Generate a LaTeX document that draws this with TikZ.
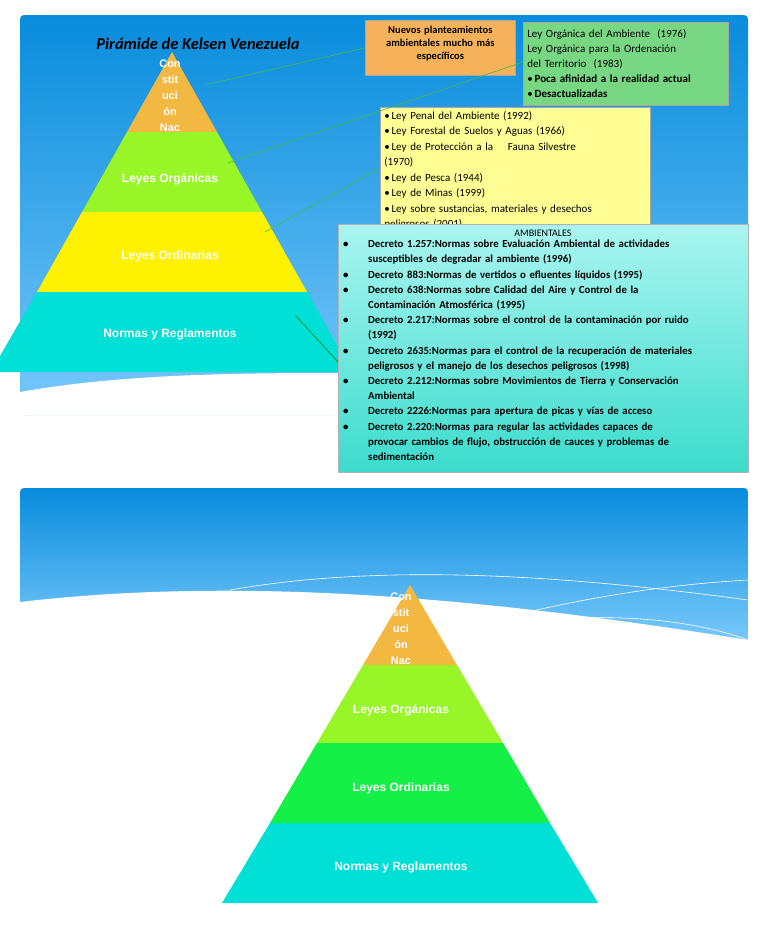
\documentclass[tikz,border=0pt]{standalone}
\usepackage{fontspec}
\setmainfont{Carlito}
\newfontfamily\arialf{Liberation Sans}
\definecolor{skyD}{RGB}{8,140,220}
\definecolor{skyL}{RGB}{120,200,250}
\definecolor{tOrange}{RGB}{242,184,66}
\definecolor{tGreen}{RGB}{152,245,40}
\definecolor{tGreenB}{RGB}{20,240,70}
\definecolor{tCyan}{RGB}{0,224,214}
\definecolor{bOrange}{RGB}{245,178,90}
\definecolor{bGreen}{RGB}{120,215,130}
\definecolor{bYellow}{RGB}{255,255,150}
\definecolor{cTop}{RGB}{170,245,240}
\definecolor{cBot}{RGB}{60,220,205}
\begin{document}
\begin{tikzpicture}[x=1pt,y=-1pt,
  tierlbl/.style={font=\arialf\bfseries\fontsize{12}{14}\selectfont,text=white},
  conlbl/.style={tierlbl,align=center,font=\arialf\bfseries\fontsize{11}{16}\selectfont},
  infobox/.style={draw=black!35,line width=0.6pt,anchor=north west,inner sep=4pt,align=left},
  link/.style={draw=green!50!gray,line width=0.6pt}]
\useasboundingbox (0,0) rectangle (768,946);
\fill[white] (0,0) rectangle (768,946);
% slide 1
\shade[top color=skyD,bottom color=skyL,rounded corners=4pt] (20,15) rectangle (748,415);
\fill[white] (20,415) -- (20,392) .. controls (200,360) and (420,380) .. (748,372) -- (748,415) -- cycle;
\draw[white,line width=0.6pt] (330,395) .. controls (480,360) and (620,365) .. (748,345);
% pyramid 1
\fill[tOrange] (172,52) -- (127,132) -- (217,132) -- cycle;
\fill[tGreen] (127,132) -- (217,132) -- (262,212) -- (82,212) -- cycle;
\fill[yellow] (82,212) -- (262,212) -- (307,292) -- (37,292) -- cycle;
\fill[tCyan] (37,292) -- (307,292) -- (352,372) -- (0,372) -- (0,356) -- cycle;
\begin{scope}
\clip (150,56) rectangle (200,132);
\node[conlbl,anchor=north] (c1) at (170,56) {Con\\stit\\uci\\ón\\Nac\\ion\\al};
\end{scope}
\node[tierlbl] (o1) at (170,179) {Leyes Orgánicas};
\node[tierlbl] (r1) at (170,256) {Leyes Ordinarias};
\node[tierlbl] (n1) at (170,334) {Normas y Reglamentos};
\node[font=\bfseries\itshape\fontsize{16.5}{19}\selectfont] (title) at (198,44) {Pirámide de Kelsen Venezuela};
% boxes
\node[infobox,align=center,fill=bOrange,text width=142pt,minimum height=55pt,font=\bfseries\fontsize{10.5}{13}\selectfont,anchor=north west] (b1) at (365,20) {Nuevos planteamientos\\ ambientales mucho más\\ específicos\vspace{8pt}};
\node[infobox,fill=bGreen,text width=197pt,minimum height=83pt,font=\fontsize{11}{15}\selectfont] (b2) at (523,22) {Ley Orgánica del Ambiente\ \ (1976)\\Ley Orgánica para la Ordenación\\del Territorio\ \ (1983)\\\textbullet\,\textbf{Poca afinidad a la realidad actual}\\\textbullet\,\textbf{Desactualizadas}};
\node[infobox,fill=bYellow,text width=262pt,minimum height=125pt,font=\fontsize{11}{15.5}\selectfont] (b3) at (380,107) {\textbullet\,Ley Penal del Ambiente (1992)\\\textbullet\,Ley Forestal de Suelos y Aguas (1966)\\\textbullet\,Ley de Protección a la\quad\ Fauna Silvestre\\(1970)\\\textbullet\,Ley de Pesca (1944)\\\textbullet\,Ley de Minas (1999)\\\textbullet\,Ley sobre sustancias, materiales y desechos\\peligrosos (2001)};
\node[draw=black!30,line width=0.6pt,anchor=north west,inner sep=0pt,minimum width=410pt,minimum height=248pt,top color=cTop,bottom color=cBot] (b4) at (338,224) {};
\node[anchor=north,font=\fontsize{10}{12}\selectfont] (amb) at (543,226) {AMBIENTALES};
\node[anchor=north west,inner sep=0pt,font=\bfseries\fontsize{10.8}{15.2}\selectfont,align=left,text width=404pt] (dec) at (343,240) {%
\makebox[25pt][l]{\textbullet}Decreto 1.257:Normas sobre Evaluación Ambiental de actividades\\\hspace*{25pt}susceptibles de degradar al ambiente (1996)\\
\makebox[25pt][l]{\textbullet}Decreto 883:Normas de vertidos o efluentes líquidos (1995)\\
\makebox[25pt][l]{\textbullet}Decreto 638:Normas sobre Calidad del Aire y Control de la\\\hspace*{25pt}Contaminación Atmosférica (1995)\\
\makebox[25pt][l]{\textbullet}Decreto 2.217:Normas sobre el control de la contaminación por ruido\\\hspace*{25pt}(1992)\\
\makebox[25pt][l]{\textbullet}Decreto 2635:Normas para el control de la recuperación de materiales\\\hspace*{25pt}peligrosos y el manejo de los desechos peligrosos (1998)\\
\makebox[25pt][l]{\textbullet}Decreto 2.212:Normas sobre Movimientos de Tierra y Conservación\\\hspace*{25pt}Ambiental\\
\makebox[25pt][l]{\textbullet}Decreto 2226:Normas para apertura de picas y vías de acceso\\
\makebox[25pt][l]{\textbullet}Decreto 2.220:Normas para regular las actividades capaces de\\\hspace*{25pt}provocar cambios de flujo, obstrucción de cauces y problemas de\\\hspace*{25pt}sedimentación};
\coordinate (p1) at (205,85); \coordinate (p2) at (228,163);
\coordinate (p3) at (265,232); \coordinate (p4) at (295,315);
\draw[link] (p1) -- (b1.west);
\draw[link] (p2) -- (523,62);
\draw[link] (p3) -- (380,168);
\draw[link,draw=black!50!green] (p4) -- (338,362);
% slide 2
\begin{scope}
\clip[rounded corners=4pt] (20,488) rectangle (748,946);
\shade[top color=skyD,bottom color=skyL] (20,488) rectangle (748,640);
\fill[white] (20,640) -- (20,602) .. controls (250,575) and (500,600) .. (748,640) -- cycle;
\fill[white] (20,640) rectangle (748,946);
\draw[white,line width=0.6pt] (230,590) .. controls (400,560) and (600,580) .. (748,600);
\draw[white,line width=0.6pt] (440,635) .. controls (560,600) and (660,585) .. (748,580);
\draw[white,line width=0.6pt] (470,630) .. controls (580,610) and (680,615) .. (748,640);
\end{scope}
\fill[tOrange] (410,585) -- (363,665) -- (457,665) -- cycle;
\fill[tGreen] (363,665) -- (457,665) -- (503,743) -- (317,743) -- cycle;
\fill[tGreenB] (317,743) -- (503,743) -- (550,823) -- (270,823) -- cycle;
\fill[tCyan] (270,823) -- (550,823) -- (598,903) -- (222,903) -- cycle;
\begin{scope}
\clip (385,589) rectangle (435,665);
\node[conlbl,anchor=north] (c2) at (401,589) {Con\\stit\\uci\\ón\\Nac\\ion\\al};
\end{scope}
\node[tierlbl] (o2) at (401,710) {Leyes Orgánicas};
\node[tierlbl] (r2) at (401,788) {Leyes Ordinarias};
\node[tierlbl] (n2) at (401,867) {Normas y Reglamentos};
\end{tikzpicture}
\end{document}
